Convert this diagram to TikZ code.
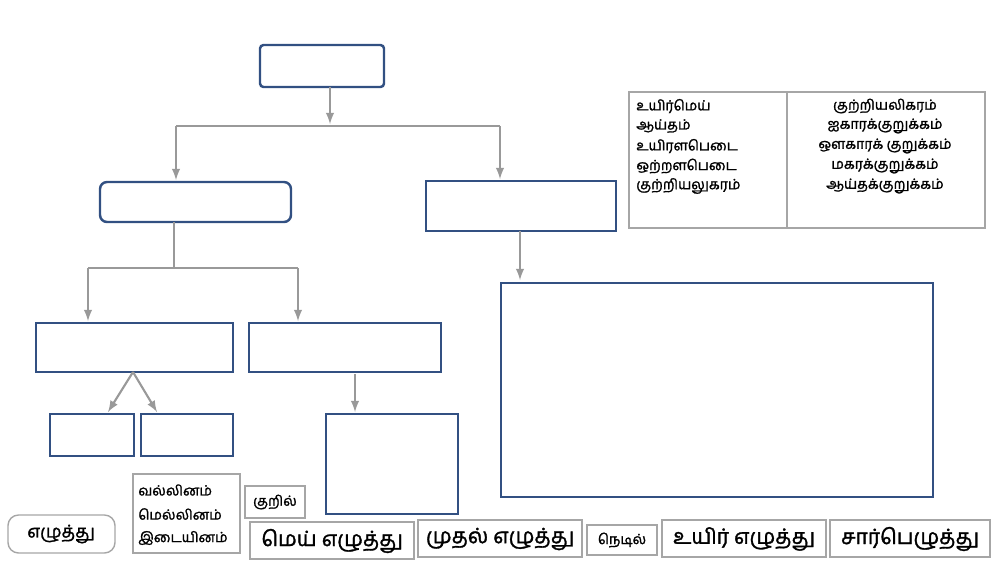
\documentclass[tikz,border=0pt]{standalone}
\usepackage{fontspec}
\newfontfamily\ta[Script=Tamil,FakeBold=1.5]{Hind Madurai}
\definecolor{bx}{RGB}{50,80,130}
\begin{document}
\begin{tikzpicture}[x=0.02cm,y=-0.02cm,
 bb/.style={draw=bx,line width=1.4pt},
 gb/.style={draw=gray!70,line width=0.8pt},
 ar/.style={draw=gray!80,line width=1.2pt,->,>=latex},
 ln/.style={draw=gray!80,line width=1.2pt},
 tt/.style={font=\ta\footnotesize,inner sep=0pt}]
\useasboundingbox[fill=white] (0,0) rectangle (1000,562);
\draw[bb,rounded corners=2pt] (260,45) rectangle (384,87);
\draw[bb,rounded corners=4pt] (100,182) rectangle (291,222);
\draw[bb] (426,181) rectangle (616,231);
\draw[bb] (36,323) rectangle (233,372);
\draw[bb] (249,323) rectangle (441,372);
\draw[bb] (50,414) rectangle (134,456);
\draw[bb] (141,414) rectangle (233,456);
\draw[bb] (326,414) rectangle (458,514);
\draw[bb] (501,283) rectangle (933,497);
\coordinate (a0) at (330,87); \coordinate (a1) at (330,124);
\draw[ar] (a0)--(a1);
\coordinate (h1) at (176,126); \coordinate (h2) at (500,126);
\draw[ln] (h1)--(h2);
\coordinate (d1) at (176,180); \coordinate (d2) at (500,179);
\draw[ar] (h1)--(d1); \draw[ar] (h2)--(d2);
\coordinate (b0) at (174,222); \coordinate (b1) at (174,268);
\draw[ln] (b0)--(b1);
\coordinate (g1) at (88,268); \coordinate (g2) at (298,268);
\draw[ln] (g1)--(g2);
\coordinate (e1) at (88,321); \coordinate (e2) at (298,321);
\draw[ar] (g1)--(e1); \draw[ar] (g2)--(e2);
\coordinate (c0) at (133,372); \coordinate (c1) at (108,412); \coordinate (c2) at (157,412);
\draw[ar] (c0)--(c1); \draw[ar] (c0)--(c2);
\coordinate (f0) at (355,374); \coordinate (f1) at (355,412);
\draw[ar] (f0)--(f1);
\coordinate (r0) at (520,231); \coordinate (r1) at (520,280);
\draw[ar] (r0)--(r1);
% table
\draw[gb] (629,92) rectangle (985,228);
\draw[gb] (787,92)--(787,228);
\foreach \t [count=\i] in {உயிர்மெய்,ஆய்தம்,உயிரளபெடை,ஒற்றளபெடை,குற்றியலுகரம்}
  \node[tt,anchor=west] (l\i) at (636,86+20*\i) {\t};
\foreach \t [count=\i] in {குற்றியலிகரம்,ஐகாரக்குறுக்கம்,ஒளகாரக் குறுக்கம்,மகரக்குறுக்கம்,ஆய்தக்குறுக்கம்}
  \node[tt] (r\i) at (885,86+20*\i) {\t};
% bottom words
\draw[gb,rounded corners=6pt] (8,515) rectangle (115,553);
\node[tt,font=\ta] (w1) at (61,534) {எழுத்து};
\draw[gb] (133,474) rectangle (240,553);
\node[tt,anchor=west] (w2) at (138,490) {வல்லினம்};
\node[tt,anchor=west] (w3) at (138,514) {மெல்லினம்};
\node[tt,anchor=west] (w4) at (138,538) {இடையினம்};
\draw[gb] (245,486) rectangle (305,518); \node[tt] (w5) at (275,502) {குறில்};
\draw[gb] (250,522) rectangle (414,559); \node[tt,font=\ta\large] (w6) at (332,541) {மெய் எழுத்து};
\draw[gb] (418,520) rectangle (582,557); \node[tt,font=\ta\large] (w7) at (500,539) {முதல் எழுத்து};
\draw[gb] (587,525) rectangle (657,555); \node[tt] (w8) at (622,540) {நெடில்};
\draw[gb] (662,520) rectangle (826,557); \node[tt,font=\ta\large] (w9) at (744,539) {உயிர் எழுத்து};
\draw[gb] (830,520) rectangle (990,557); \node[tt,font=\ta\large] (w10) at (910,539) {சார்பெழுத்து};
\end{tikzpicture}
\end{document}
